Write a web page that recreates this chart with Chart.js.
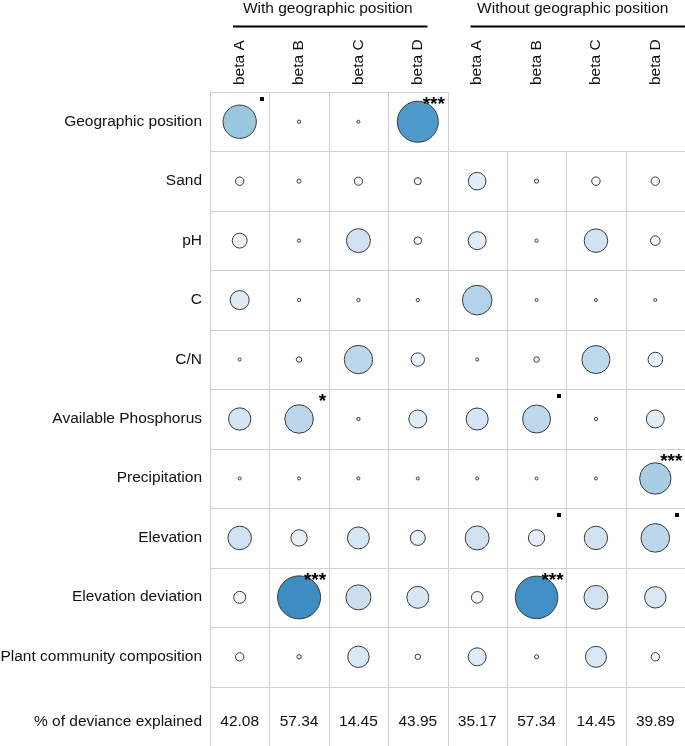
<!DOCTYPE html>
<html>
<head>
<meta charset="utf-8">
<script src="https://cdn.jsdelivr.net/npm/chart.js@4.4.0/dist/chart.umd.min.js"></script>
<style>
  html, body { margin: 0; padding: 0; background: #fff; }
  #wrap { width: 685px; height: 746px; }
</style>
</head>
<body>
<div id="wrap"><canvas id="chart" width="685" height="746"></canvas></div>
<script>
// rows of the table
const predictors = [
    "Geographic position", "Sand", "pH", "C", "C/N", "Available Phosphorus",
    "Precipitation", "Elevation", "Elevation deviation", "Plant community composition"
];
const devianceLabel = "% of deviance explained";
const groups = ["With geographic position", "Without geographic position"];
const betaLabels = ["beta A", "beta B", "beta C", "beta D"];

// relative importance (%), one row per predictor, columns beta A..D
const importanceWith = [
    [60, 0.6, 0.5, 91],
    [3.8, 0.9, 3.5, 2.7],
    [12, 0.6, 31, 3.1],
    [19.5, 0.6, 0.6, 0.6],
    [0.5, 1.6, 43.6, 9.7],
    [27, 44, 0.6, 17.5],
    [0.5, 0.5, 0.5, 0.5],
    [30, 14.5, 26, 12.2],
    [7.8, 100, 33.8, 26],
    [3.8, 1.0, 24.8, 1.6],
];
const importanceWithout = [
    [null, null, null, null],
    [16.8, 0.9, 3.9, 3.9],
    [17.5, 0.6, 30, 5],
    [47.4, 0.5, 0.5, 0.5],
    [0.5, 1.6, 42.4, 11.5],
    [26.2, 42.4, 0.6, 17.5],
    [0.5, 0.5, 0.5, 53.3],
    [31, 14.5, 29.6, 44.2],
    [7.3, 98, 31, 24.8],
    [17.5, 0.9, 23.9, 3.8],
];
const signifWith = [
    [".", "", "", "***"],
    ["", "", "", ""],
    ["", "", "", ""],
    ["", "", "", ""],
    ["", "", "", ""],
    ["", "*", "", ""],
    ["", "", "", ""],
    ["", "", "", ""],
    ["", "***", "", ""],
    ["", "", "", ""],
];
const signifWithout = [
    ["", "", "", ""],
    ["", "", "", ""],
    ["", "", "", ""],
    ["", "", "", ""],
    ["", "", "", ""],
    ["", ".", "", ""],
    ["", "", "", "***"],
    ["", ".", "", "."],
    ["", "***", "", ""],
    ["", "", "", ""],
];
const devianceWith = [42.08, 57.34, 14.45, 43.95];
const devianceWithout = [35.17, 57.34, 14.45, 39.89];

const FONT = '"Liberation Sans", Arial, sans-serif';
const nRows = predictors.length + 1;
const nCols = betaLabels.length * groups.length;

// matplotlib "Blues"
const blues = ["#f7fbff", "#deebf7", "#c6dbef", "#9ecae1", "#6baed6", "#4292c6", "#2171b5", "#08519c", "#08306b"];
function hexToRgb(h) {
    return [1, 3, 5].map(i => parseInt(h.slice(i, i + 2), 16));
}
function bluesColor(v) {
    const f = Math.max(0, Math.min(1, v / 155)) * (blues.length - 1);
    const i = Math.min(Math.floor(f), blues.length - 2);
    const t = f - i;
    const a = hexToRgb(blues[i]), b = hexToRgb(blues[i + 1]);
    const c = a.map((x, k) => Math.round(x + (b[k] - x) * t));
    return `rgb(${c[0]},${c[1]},${c[2]})`;
}
function radius(v) {
    return 2.15 * Math.sqrt(v);
}

const points = [];
[importanceWith, importanceWithout].forEach((table, g) => {
    table.forEach((row, i) => {
        row.forEach((v, j) => {
            if (v === null) return;
            points.push({ x: g * 4 + j + 0.5, y: i + 0.5, r: radius(v), v: v });
        });
    });
});

const tablePlugin = {
    id: "bubbleTable",
    beforeDatasetsDraw(chart) {
        const ctx = chart.ctx;
        const xs = chart.scales.x, ys = chart.scales.y;
        ctx.save();
        ctx.strokeStyle = "#d0d0d0";
        ctx.lineWidth = 1;
        for (let i = 0; i < nRows; i++) {
            for (let c = 0; c < nCols; c++) {
                if (i === 0 && importanceWithout[0][c - 4] === null) continue;
                const x0 = Math.round(xs.getPixelForValue(c)) + 0.5;
                const x1 = Math.round(xs.getPixelForValue(c + 1)) + 0.5;
                const y0 = Math.round(ys.getPixelForValue(i)) + 0.5;
                const y1 = Math.round(ys.getPixelForValue(i + 1)) + 0.5;
                ctx.strokeRect(x0, y0, x1 - x0, y1 - y0);
            }
        }
        ctx.restore();
    },
    afterDraw(chart) {
        const ctx = chart.ctx;
        const xs = chart.scales.x, ys = chart.scales.y;
        const area = chart.chartArea;
        ctx.save();
        ctx.fillStyle = "#111";
        ctx.font = `15.5px ${FONT}`;

        // row labels
        ctx.textAlign = "right";
        ctx.textBaseline = "alphabetic";
        predictors.concat([devianceLabel]).forEach((label, i) => {
            const yc = ys.getPixelForValue(i + 0.5);
            const off = i === predictors.length ? 9.5 : 4;
            ctx.fillText(label, area.left - 8, yc + off);
        });

        // deviance explained values
        ctx.textAlign = "center";
        devianceWith.concat(devianceWithout).forEach((val, c) => {
            const xc = xs.getPixelForValue(c + 0.5);
            const yc = ys.getPixelForValue(predictors.length + 0.5);
            ctx.fillText(val.toFixed(2), xc, yc + 10);
        });

        // column labels (rotated)
        for (let c = 0; c < nCols; c++) {
            const xc = xs.getPixelForValue(c + 0.5);
            ctx.save();
            ctx.translate(xc, area.top - 7);
            ctx.rotate(-Math.PI / 2);
            ctx.textAlign = "left";
            ctx.textBaseline = "middle";
            ctx.fillText(betaLabels[c % 4], 0, 0);
            ctx.restore();
        }

        // group titles with rules
        ctx.textAlign = "center";
        ctx.textBaseline = "alphabetic";
        ctx.strokeStyle = "#000";
        ctx.lineWidth = 2;
        groups.forEach((title, g) => {
            const left = xs.getPixelForValue(g * 4);
            const right = xs.getPixelForValue(g * 4 + 4);
            const mid = (left + right) / 2;
            ctx.fillText(title, g === 0 ? mid - 1 : mid + 6.5, 13);
            ctx.beginPath();
            ctx.moveTo(left + 23, 26.5);
            ctx.lineTo(g === 0 ? right - 20 : right + 10, 26.5);
            ctx.stroke();
        });

        // significance markers
        ctx.textAlign = "right";
        ctx.fillStyle = "#000";
        ctx.font = `bold 19px ${FONT}`;
        [signifWith, signifWithout].forEach((table, g) => {
            table.forEach((row, i) => {
                row.forEach((s, j) => {
                    if (!s) return;
                    const xc = xs.getPixelForValue(g * 4 + j + 0.5);
                    const top = ys.getPixelForValue(i);
                    if (s === ".") {
                        ctx.fillRect(Math.round(xc + 20), Math.round(top + 4.5), 4, 4);
                    } else {
                        ctx.fillText(s, xc + 27, top + 18);
                    }
                });
            });
        });
        ctx.restore();
    }
};

new Chart(document.getElementById("chart"), {
    type: "bubble",
    data: {
        datasets: [{
            data: points,
            backgroundColor: (c) => c.raw ? bluesColor(c.raw.v) : "#fff",
            borderColor: "#3a3a3a",
            borderWidth: 1,
            hoverBorderWidth: 1,
            clip: false,
        }]
    },
    options: {
        responsive: false,
        animation: false,
        events: [],
        layout: { autoPadding: false, padding: { left: 210, top: 92, right: 0, bottom: 0 } },
        scales: {
            x: { type: "linear", min: 0, max: nCols, display: false },
            y: { type: "linear", min: 0, max: nRows, reverse: true, display: false },
        },
        plugins: {
            legend: { display: false },
            tooltip: { enabled: false },
        },
    },
    plugins: [tablePlugin],
});
</script>
</body>
</html>
